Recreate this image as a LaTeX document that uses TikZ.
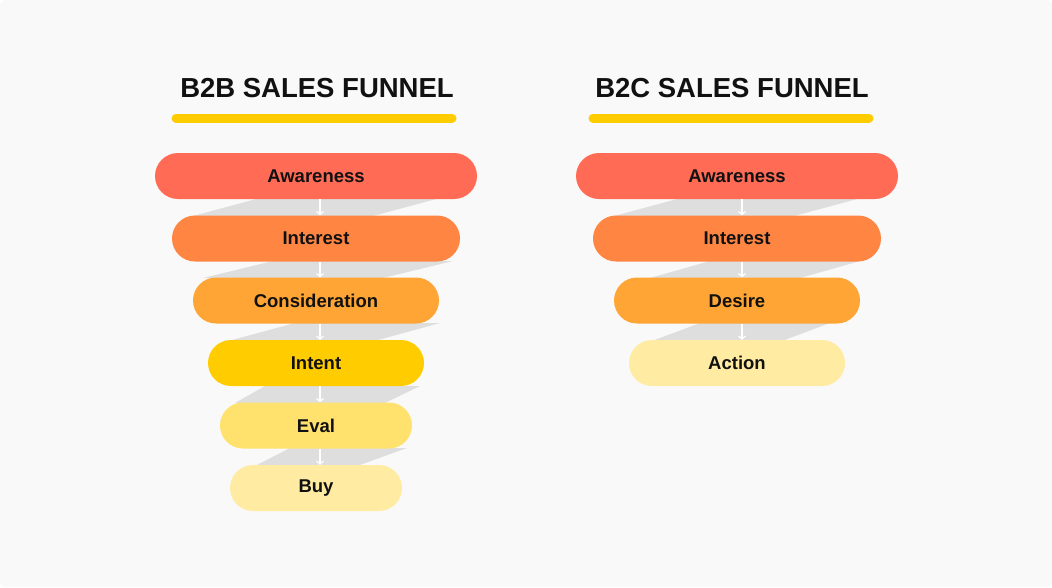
\documentclass[tikz,border=0pt]{standalone}
\usepackage{fontspec}
\setmainfont{Liberation Sans}
\usetikzlibrary{arrows.meta}

\definecolor{bgcol}{HTML}{F9F9F9}
\definecolor{bandcol}{HTML}{DEDEDE}
\definecolor{barcol}{HTML}{FFCC00}
\definecolor{awarecol}{HTML}{FF6B55}
\definecolor{interestcol}{HTML}{FF8542}
\definecolor{considcol}{HTML}{FFA536}
\definecolor{intentcol}{HTML}{FFCC00}
\definecolor{evalcol}{HTML}{FFE16E}
\definecolor{buycol}{HTML}{FFEBA2}
\definecolor{textcol}{HTML}{111111}

\tikzset{
  pill/.style={rectangle, rounded corners=23pt, minimum height=46pt,
    inner sep=0pt, text=textcol, font=\fontsize{18.5}{20}\selectfont\bfseries},
  title/.style={text=textcol, inner sep=0pt, font=\fontsize{27.5}{32}\selectfont\bfseries},
  bar/.style={barcol, line width=9pt, line cap=round},
  band/.style={fill=bandcol},
  flow/.style={white, line width=1.2pt, -{Straight Barb[length=3pt,width=7pt]}}
}

\begin{document}
\begin{tikzpicture}[x=1pt,y=-1pt]

    % Background card
    \fill[white] (0,0) rectangle (1052,587);
    \fill[bgcol, rounded corners=6pt] (0,0) rectangle (1052,587);
    \useasboundingbox (0,0) rectangle (1052,587);

    % Titles and underline bars
    \node[title] (b2bT) at (317,88) {B2B SALES FUNNEL};
    \node[title] (b2cT) at (732,88) {B2C SALES FUNNEL};
    \draw[bar] (176,118) -- (452,118);
    \draw[bar] (593,118) -- (869,118);

    % Gray bands between the B2B stages
    \fill[band] (260,198) -- (440,198) -- (373,216) -- (193,216) -- cycle;
    \fill[band] (273,261) -- (453,261) -- (383,278) -- (203,278) -- cycle;
    \fill[band] (295,323) -- (440,323) -- (378,340) -- (232,340) -- cycle;
    \fill[band] (265,386) -- (420,386) -- (385,403) -- (235,403) -- cycle;
    \fill[band] (290,448) -- (407,448) -- (357,466) -- (255,466) -- cycle;

    % Gray bands between the B2C stages
    \fill[band] (681,198) -- (861,198) -- (794,216) -- (614,216) -- cycle;
    \fill[band] (710,261) -- (860,261) -- (800,278) -- (650,278) -- cycle;
    \fill[band] (700,323) -- (830,323) -- (782,341) -- (652,341) -- cycle;

    % B2B stages
    \node[pill, fill=awarecol, minimum width=322pt] (b2bAware) at (316,176) {Awareness};
    \node[pill, fill=interestcol, minimum width=288pt] (b2bInterest) at (316,238.5) {Interest};
    \node[pill, fill=considcol, minimum width=246pt] (b2bConsid) at (316,300.5) {Consideration};
    \node[pill, fill=intentcol, minimum width=216pt] (b2bIntent) at (316,363) {Intent};
    \node[pill, fill=evalcol, minimum width=192pt] (b2bEval) at (316,425.5) {Eval};
    \node[pill, fill=buycol, minimum width=172pt] (b2bBuy) at (316,488) {Buy};

    % B2C stages
    \node[pill, fill=awarecol, minimum width=322pt] (b2cAware) at (737,176) {Awareness};
    \node[pill, fill=interestcol, minimum width=288pt] (b2cInterest) at (737,238.5) {Interest};
    \node[pill, fill=considcol, minimum width=246pt] (b2cDesire) at (737,300.5) {Desire};
    \node[pill, fill=buycol, minimum width=216pt] (b2cAction) at (737,363) {Action};

    % White arrows between stages
    \draw[flow] ([xshift=4pt]b2bAware.south) -- ([xshift=4pt]b2bInterest.north);
    \draw[flow] ([xshift=4pt]b2bInterest.south) -- ([xshift=4pt]b2bConsid.north);
    \draw[flow] ([xshift=4pt]b2bConsid.south) -- ([xshift=4pt]b2bIntent.north);
    \draw[flow] ([xshift=4pt]b2bIntent.south) -- ([xshift=4pt]b2bEval.north);
    \draw[flow] ([xshift=4pt]b2bEval.south) -- ([xshift=4pt]b2bBuy.north);

    \draw[flow] ([xshift=5pt]b2cAware.south) -- ([xshift=5pt]b2cInterest.north);
    \draw[flow] ([xshift=5pt]b2cInterest.south) -- ([xshift=5pt]b2cDesire.north);
    \draw[flow] ([xshift=5pt]b2cDesire.south) -- ([xshift=5pt]b2cAction.north);

\end{tikzpicture}
\end{document}
